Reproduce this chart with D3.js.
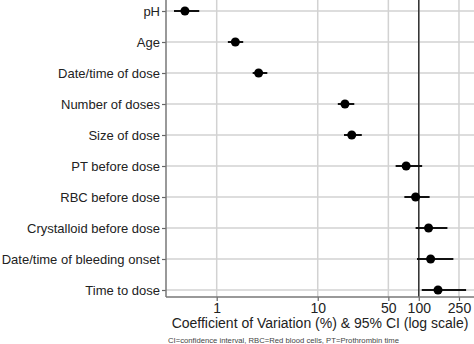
<!DOCTYPE html>
<html>
<head>
<meta charset="utf-8">
<script src="https://cdn.jsdelivr.net/npm/d3@7"></script>
<style>
  body { margin: 0; background: #fff; }
  text { font-family: "Liberation Sans", Arial, sans-serif; fill: #222; }
</style>
</head>
<body>
<div id="chart"></div>
<script>
// variables, top to bottom
var categories = ["pH", "Age", "Date/time of dose", "Number of doses", "Size of dose",
  "PT before dose", "RBC before dose", "Crystalloid before dose",
  "Date/time of bleeding onset", "Time to dose"]
// coefficient of variation (%) and 95% CI
var cv    = [0.485, 1.53, 2.6, 18.6, 21.7, 75, 93, 125, 131, 155]
var ciLow = [0.378, 1.29, 2.27, 15.8, 18.2, 59, 72, 93, 96, 107]
var ciHigh = [0.672, 1.83, 3.17, 23, 27.3, 108, 128, 192, 220, 294]
var xTicks = [1, 10, 50, 100, 250]

var width = 474,
    height = 344,
    plotLeft = 166,
    plotRight = 474,
    firstRow = 11,
    lastRow = 290,
    plotBottom = 297

var svg = d3.select("#chart").append("svg")
    .attr("width", width)
    .attr("height", height)

var x = d3.scaleLog()
    .domain([0.315, 352])
    .range([plotLeft, plotRight])

var y = d3.scalePoint()
    .domain(categories)
    .range([firstRow, lastRow])

// grid
svg.append("g").selectAll("line")
    .data(xTicks).enter().append("line")
      .attr("x1", function(d) { return x(d) })
      .attr("x2", function(d) { return x(d) })
      .attr("y1", 0)
      .attr("y2", plotBottom)
      .style("stroke", "#d2d2d2")
      .style("stroke-width", 1.5)

svg.append("g").selectAll("line")
    .data(categories).enter().append("line")
      .attr("x1", plotLeft)
      .attr("x2", plotRight)
      .attr("y1", function(d) { return y(d) })
      .attr("y2", function(d) { return y(d) })
      .style("stroke", "#d2d2d2")
      .style("stroke-width", 1.5)

// reference line at 100
svg.append("line")
    .attr("x1", x(100)).attr("x2", x(100))
    .attr("y1", 0).attr("y2", plotBottom)
    .style("stroke", "#333")
    .style("stroke-width", 1.5)

// axes
var yAxis = svg.append("g")
    .attr("transform", "translate(" + plotLeft + ",0)")
    .call(d3.axisLeft(y).tickSize(4).tickPadding(2))
yAxis.select(".domain").remove()
yAxis.selectAll(".tick line").style("stroke", "#666").style("stroke-width", 1.2)
yAxis.selectAll(".tick text")
    .style("font-size", "13px")
    .style("font-family", "'Liberation Sans', Arial, sans-serif")
    .style("fill", "#222")

var xAxis = svg.append("g")
    .attr("transform", "translate(0," + plotBottom + ")")
    .call(d3.axisBottom(x).tickValues(xTicks).tickFormat(d3.format("d")).tickSize(4).tickPadding(2))
xAxis.select(".domain").remove()
xAxis.selectAll(".tick line").style("stroke", "#666").style("stroke-width", 1.2)
xAxis.selectAll(".tick text")
    .style("font-size", "14px")
    .style("font-family", "'Liberation Sans', Arial, sans-serif")
    .style("fill", "#222")

svg.append("line")
    .attr("x1", plotLeft).attr("x2", plotLeft)
    .attr("y1", 0).attr("y2", plotBottom)
    .style("stroke", "#777").style("stroke-width", 1.5)
svg.append("line")
    .attr("x1", plotLeft).attr("x2", plotRight)
    .attr("y1", plotBottom).attr("y2", plotBottom)
    .style("stroke", "#777").style("stroke-width", 1.5)

// confidence intervals and points
var rows = svg.append("g").selectAll("g")
    .data(categories).enter().append("g")

rows.append("line")
    .attr("x1", function(d, i) { return x(ciLow[i]) })
    .attr("x2", function(d, i) { return x(ciHigh[i]) })
    .attr("y1", function(d) { return y(d) })
    .attr("y2", function(d) { return y(d) })
    .style("stroke", "#111")
    .style("stroke-width", 2)

rows.append("circle")
    .attr("cx", function(d, i) { return x(cv[i]) })
    .attr("cy", function(d) { return y(d) })
    .attr("r", 4.5)
    .style("fill", "#000")

// titles
svg.append("text")
    .attr("x", (plotLeft + plotRight) / 2)
    .attr("y", 328)
    .attr("text-anchor", "middle")
    .style("font-size", "14px")
    .text("Coefficient of Variation (%) & 95% CI (log scale)")

svg.append("text")
    .attr("x", 168)
    .attr("y", 343)
    .style("font-size", "7.7px")
    .style("fill", "#444")
    .text("CI=confidence interval, RBC=Red blood cells, PT=Prothrombin time")
</script>
</body>
</html>
